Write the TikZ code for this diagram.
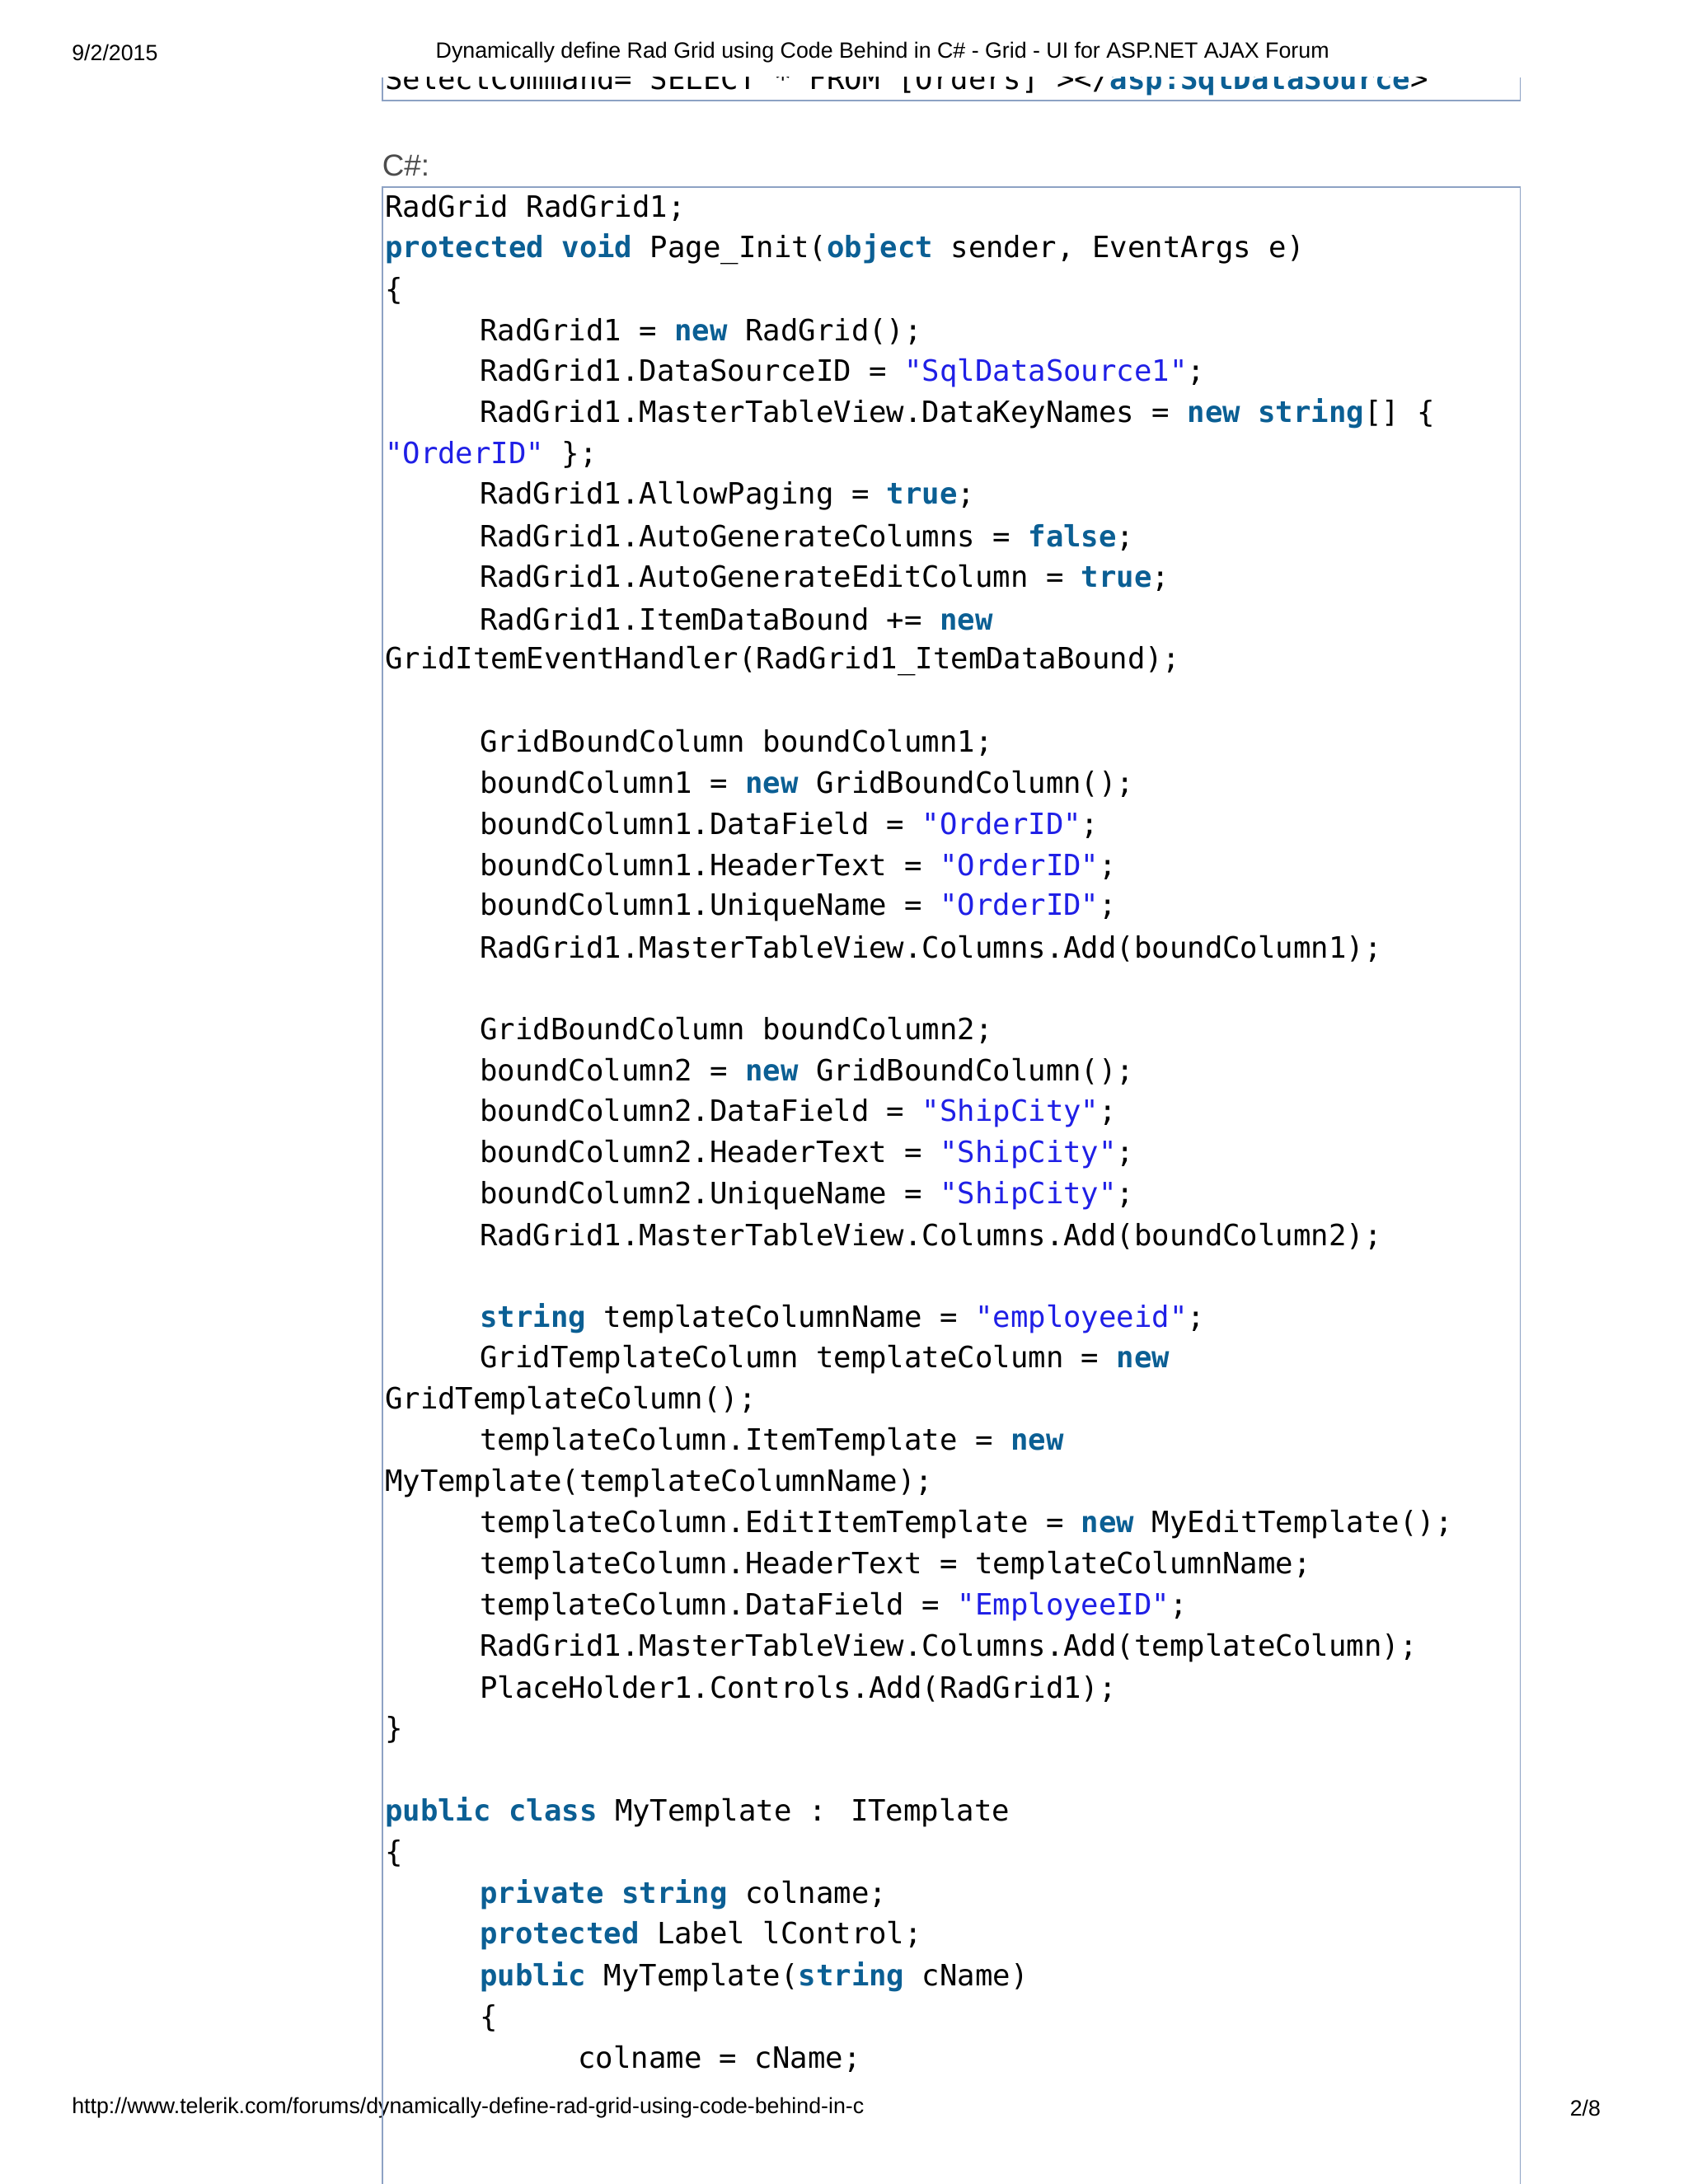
\documentclass[tikz,border=0pt]{standalone}
\usepackage{fontspec}
\setmainfont{Liberation Sans}
\newfontfamily\codefont{DejaVu Sans Mono}
\definecolor{kwc}{HTML}{0B5F94}
\definecolor{strc}{HTML}{1F1FE6}
\definecolor{boxc}{HTML}{8DA2C4}
\newcommand{\kw}[1]{\textbf{\color{kwc}#1}}
\newcommand{\str}[1]{{\color{strc}#1}}
\tikzset{codeline/.style={anchor=west,inner sep=0pt,font=\codefont\fontsize{21.3}{24}\selectfont},
  hdr/.style={inner sep=0pt,font=\fontsize{16}{18}\selectfont}}
\begin{document}
\begin{tikzpicture}[x=1pt,y=-1pt]
\useasboundingbox[fill=white] (0,0) rectangle (1224,1584);
\node[hdr,anchor=west] (date) at (52,38) {9/2/2015};
\node[hdr] (title) at (640,38) {Dynamically define Rad Grid using Code Behind in C\# - Grid - UI for ASP.NET AJAX Forum};
\node[hdr,anchor=west] (url) at (52,1529) {http://www.telerik.com/forums/dynamically-define-rad-grid-using-code-behind-in-c};
\node[hdr,anchor=east] (page) at (1161,1529) {2/8};
% top clipped box
\begin{scope}
\clip (270,56) rectangle (1110,80);
\node[codeline] (sel) at (279,59) {SelectCommand="SELECT * FROM [Orders]"></\kw{asp:SqlDataSource}>};
\end{scope}
\draw[boxc,line width=1pt] (277.5,56) -- (277.5,73) -- (1102.5,73) -- (1102.5,56);
\node[anchor=west,inner sep=0pt,font=\fontsize{22}{24}\selectfont,text=black!70] (cs) at (277,120) {C\#:};
\draw[boxc,line width=1pt] (277.5,1584) -- (277.5,135.5) -- (1102.5,135.5) -- (1102.5,1584);
\def\L#1#2#3{\node[codeline] (l#1) at (#2,151+29.83*#1) {#3};}
\L{0}{279}{RadGrid RadGrid1;}
\L{1}{279}{\kw{protected} \kw{void} Page\_Init(\kw{object} sender, EventArgs e)}
\L{2}{279}{\{}
\L{3}{348}{RadGrid1 = \kw{new} RadGrid();}
\L{4}{348}{RadGrid1.DataSourceID = \str{"SqlDataSource1"};}
\L{5}{348}{RadGrid1.MasterTableView.DataKeyNames = \kw{new} \kw{string}[] \{}
\L{6}{279}{\str{"OrderID"} \};}
\L{7}{348}{RadGrid1.AllowPaging = \kw{true};}
\L{8}{348}{RadGrid1.AutoGenerateColumns = \kw{false};}
\L{9}{348}{RadGrid1.AutoGenerateEditColumn = \kw{true};}
\L{10}{348}{RadGrid1.ItemDataBound += \kw{new}}
\L{11}{279}{GridItemEventHandler(RadGrid1\_ItemDataBound);}
\L{13}{348}{GridBoundColumn boundColumn1;}
\L{14}{348}{boundColumn1 = \kw{new} GridBoundColumn();}
\L{15}{348}{boundColumn1.DataField = \str{"OrderID"};}
\L{16}{348}{boundColumn1.HeaderText = \str{"OrderID"};}
\L{17}{348}{boundColumn1.UniqueName = \str{"OrderID"};}
\L{18}{348}{RadGrid1.MasterTableView.Columns.Add(boundColumn1);}
\L{20}{348}{GridBoundColumn boundColumn2;}
\L{21}{348}{boundColumn2 = \kw{new} GridBoundColumn();}
\L{22}{348}{boundColumn2.DataField = \str{"ShipCity"};}
\L{23}{348}{boundColumn2.HeaderText = \str{"ShipCity"};}
\L{24}{348}{boundColumn2.UniqueName = \str{"ShipCity"};}
\L{25}{348}{RadGrid1.MasterTableView.Columns.Add(boundColumn2);}
\L{27}{348}{\kw{string} templateColumnName = \str{"employeeid"};}
\L{28}{348}{GridTemplateColumn templateColumn = \kw{new}}
\L{29}{279}{GridTemplateColumn();}
\L{30}{348}{templateColumn.ItemTemplate = \kw{new}}
\L{31}{279}{MyTemplate(templateColumnName);}
\L{32}{348}{templateColumn.EditItemTemplate = \kw{new} MyEditTemplate();}
\L{33}{348}{templateColumn.HeaderText = templateColumnName;}
\L{34}{348}{templateColumn.DataField = \str{"EmployeeID"};}
\L{35}{348}{RadGrid1.MasterTableView.Columns.Add(templateColumn);}
\L{36}{348}{PlaceHolder1.Controls.Add(RadGrid1);}
\L{37}{279}{\}}
\L{39}{279}{\kw{public} \kw{class} MyTemplate : ITemplate}
\L{40}{279}{\{}
\L{41}{348}{\kw{private} \kw{string} colname;}
\L{42}{348}{\kw{protected} Label lControl;}
\L{43}{348}{\kw{public} MyTemplate(\kw{string} cName)}
\L{44}{348}{\{}
\L{45}{419}{colname = cName;}
\end{tikzpicture}
\end{document}
